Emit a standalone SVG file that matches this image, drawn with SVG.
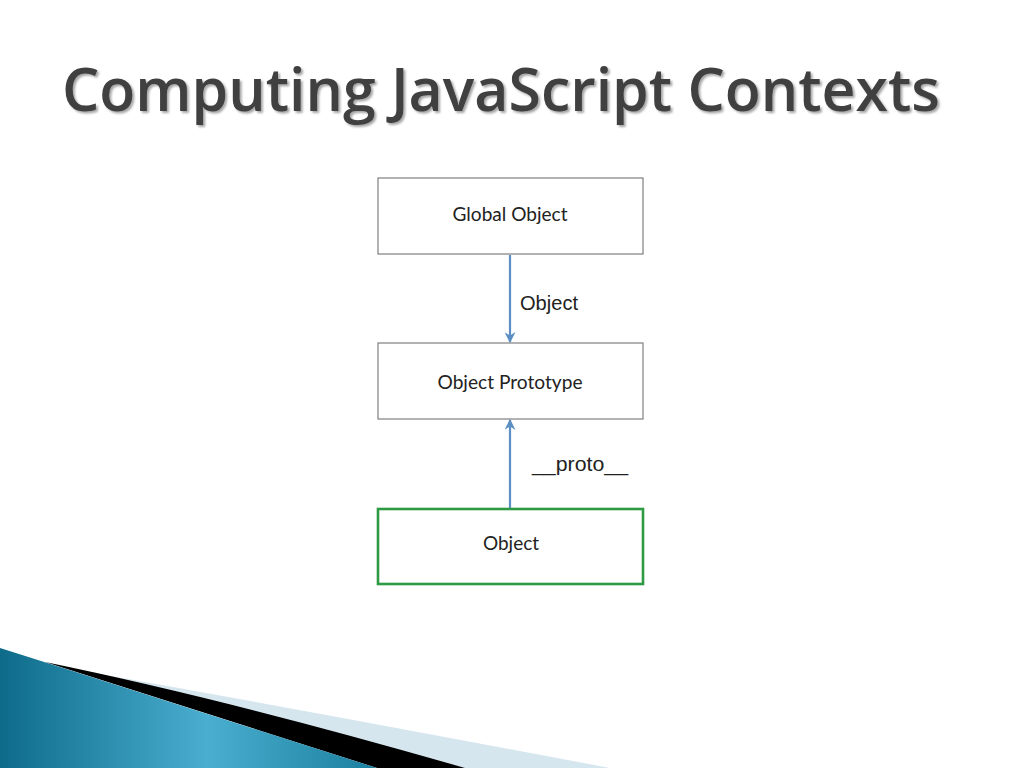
<svg xmlns="http://www.w3.org/2000/svg" width="1024" height="768" viewBox="0 0 1024 768">
<defs>
<style>
.box{fill:#fff;stroke:#7f7f7f;stroke-width:1.2}
.boxg{fill:#fff;stroke:#2f9a44;stroke-width:2.6}
.nt{font-family:Lato,"Open Sans",sans-serif;font-size:18.5px;fill:#222;text-anchor:middle}
.lbl{font-family:"Liberation Sans",Arial,sans-serif;font-size:19.5px;fill:#222}
.conn{stroke:#5b8fc4;stroke-width:2.2;fill:none}
</style>
<marker id="ah" viewBox="0 0 10 10" refX="9" refY="5" markerWidth="5" markerHeight="5" orient="auto" markerUnits="strokeWidth">
<path d="M0,0 L10,5 L0,10 L3,5 Z" fill="#5b8fc4"/>
</marker>
<linearGradient id="bg" x1="0" y1="0" x2="1" y2="0">
<stop offset="0" stop-color="#0e6b8a"/>
<stop offset="0.55" stop-color="#4aaed0"/>
<stop offset="1" stop-color="#1b7f9f"/>
</linearGradient>
<filter id="sh" x="-5%" y="-20%" width="110%" height="140%">
<feGaussianBlur in="SourceAlpha" stdDeviation="1.2"/>
<feOffset dx="1.5" dy="2" result="o"/>
<feFlood flood-color="#000" flood-opacity="0.35"/>
<feComposite in2="o" operator="in"/>
<feMerge><feMergeNode/><feMergeNode in="SourceGraphic"/></feMerge>
</filter>
</defs>
<rect width="1024" height="768" fill="#fff"/>
<g id="swoosh">
<path d="M60,667 Q250,700 610,768 L465,768 Z" fill="#d6e6ef"/>
<path d="M45,662 Q230,700 465,768 L377,768 Z" fill="#000"/>
<path d="M0,648 L60,667 L377,768 L0,768 Z" fill="url(#bg)"/>
</g>
<text id="title" x="62" y="111" font-family="'Open Sans','DejaVu Sans',sans-serif" font-size="60" font-weight="600" fill="#404040" textLength="878" lengthAdjust="spacingAndGlyphs" filter="url(#sh)">Computing JavaScript Contexts</text>
<g id="connectors">
<line class="conn" x1="510" y1="255" x2="510" y2="342" marker-end="url(#ah)"/>
<line class="conn" x1="510" y1="508" x2="510" y2="420" marker-end="url(#ah)"/>
<text class="lbl" x="520" y="310" textLength="58" lengthAdjust="spacingAndGlyphs">Object</text>
<text class="lbl" x="532" y="471" textLength="96" lengthAdjust="spacingAndGlyphs">__proto__</text>
</g>
<g id="global">
<rect class="box" x="378" y="178" width="265" height="76"/>
<text class="nt" x="510" y="221" textLength="115" lengthAdjust="spacingAndGlyphs">Global Object</text>
</g>
<g id="prototype">
<rect class="box" x="378" y="343" width="265" height="76"/>
<text class="nt" x="510" y="389" textLength="145" lengthAdjust="spacingAndGlyphs">Object Prototype</text>
</g>
<g id="object">
<rect class="boxg" x="378" y="509" width="265" height="75"/>
<text class="nt" x="511" y="550" textLength="56" lengthAdjust="spacingAndGlyphs">Object</text>
</g>
</svg>
